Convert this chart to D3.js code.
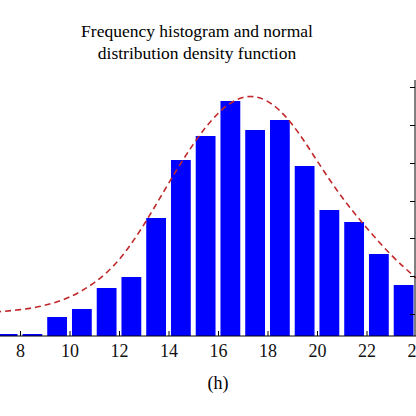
<!DOCTYPE html><html><head><meta charset="utf-8">
<script src="https://cdn.jsdelivr.net/npm/d3@7"></script>
<style>body{margin:0;background:#fff}</style></head><body>
<svg id="c" width="416" height="416"></svg>
<script>
const binCenters=[7.5,8.5,9.5,10.5,11.5,12.5,13.5,14.5,15.5,16.5,17.5,18.5,19.5,20.5,21.5,22.5,23.5];
const binCounts=[2,2,19,27,48,59,118,176,200,235,206,216,170,126,114,82,51];
const curveX=[7,8,9,10,11,12,13,14,15,16,17,18,19,20,21,22,23,24];
const curveY=[24,26,30,38,52,74,110,153,193,225,242,238,214,175,138,108,80,58];
const xTicks=[8,10,12,14,16,18,20,22,24];
const yTicks=[22,60,98,135,173,211,249];
const svg=d3.select("#c");
const x=d3.scaleLinear().domain([8,24]).range([20,416]);
const y=d3.scaleLinear().domain([0,249]).range([336,87]);
const bw=x(0.8)-x(0);
svg.selectAll("rect").data(binCenters).join("rect")
 .attr("x",(d)=>x(d)-bw/2).attr("width",bw)
 .attr("y",(d,i)=>y(binCounts[i])).attr("height",(d,i)=>y(0)-y(binCounts[i]))
 .attr("fill","#0000ff");
svg.append("path").datum(curveX.map((d,i)=>[d,curveY[i]]))
 .attr("d",d3.line().x(d=>x(d[0])).y(d=>y(d[1])).curve(d3.curveBasis))
 .attr("fill","none").attr("stroke","#c0282a").attr("stroke-width",1.6).attr("stroke-dasharray","6,4");
const xa=svg.append("g").attr("transform","translate(0,336)")
 .call(d3.axisBottom(x).tickValues(xTicks).tickSize(-5).tickPadding(8).tickFormat(d3.format("d")));
xa.select(".domain").attr("d","M0,0H416");
xa.selectAll("text").attr("font-family","Liberation Serif").attr("font-size",18).attr("fill","#111");
const ya=svg.append("g").attr("transform","translate(415,0)")
 .call(d3.axisRight(y).tickValues(yTicks).tickSize(-5).tickFormat(""));
ya.select(".domain").attr("d","M0,336V80");
svg.append("text").attr("x",197).attr("y",37).attr("text-anchor","middle")
 .attr("font-family","Liberation Serif").attr("font-size",17.5).text("Frequency histogram and normal");
svg.append("text").attr("x",197).attr("y",59).attr("text-anchor","middle")
 .attr("font-family","Liberation Serif").attr("font-size",17.5).text("distribution density function");
svg.append("text").attr("x",218).attr("y",389).attr("text-anchor","middle")
 .attr("font-family","Liberation Serif").attr("font-size",18).text("(h)");
</script></body></html>
